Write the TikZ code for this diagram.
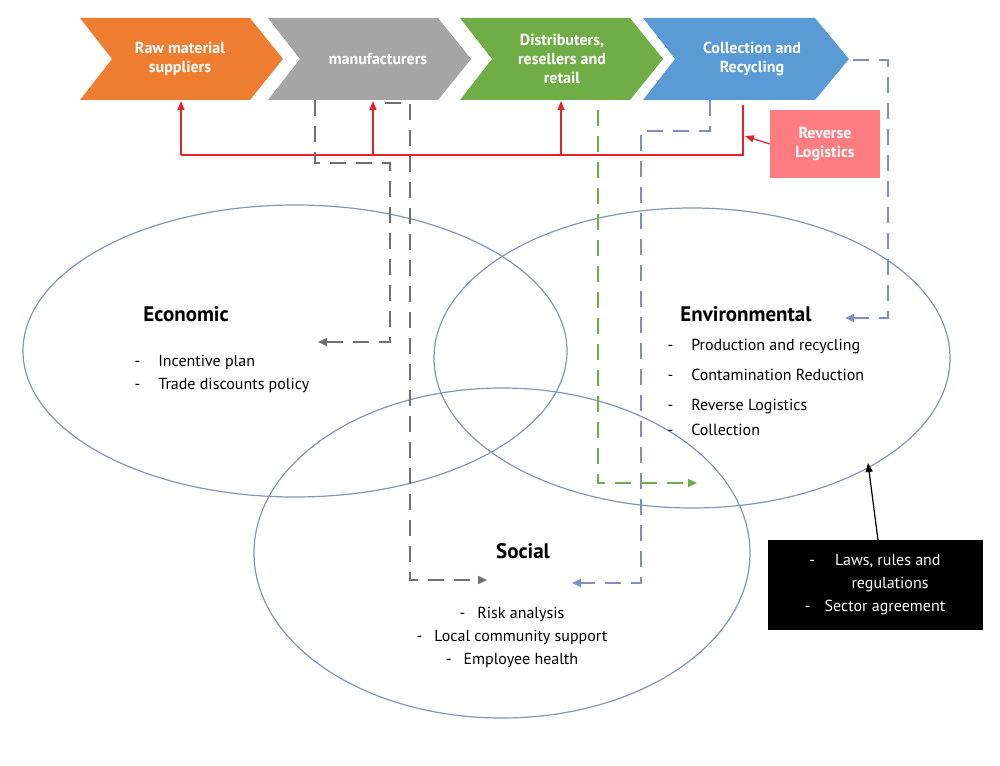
\documentclass[tikz,border=0pt]{standalone}
\usepackage{fontspec}
\setmainfont{PT Sans}
\usetikzlibrary{arrows.meta}
\definecolor{corange}{HTML}{ED7D31}
\definecolor{cgray}{HTML}{A5A5A5}
\definecolor{cgreen}{HTML}{70AD47}
\definecolor{cblue}{HTML}{5B9BD5}
\definecolor{cpink}{HTML}{FF7C80}
\definecolor{cell}{HTML}{8497B0}
\definecolor{dgray}{HTML}{707070}
\definecolor{dblue}{HTML}{7F8FBF}
\definecolor{cred}{HTML}{E8202A}
\tikzset{
 chev/.style={fill=#1,draw=none},
 clab/.style={text=white,font=\bfseries\fontsize{16}{19}\selectfont,align=center},
 ell/.style={draw=cell,line width=1.2pt},
 dl/.style={dashed,dash pattern=on 16pt off 10pt,line width=2pt,-{Triangle[length=9pt,width=8pt]}},
 rl/.style={cred,line width=1.2pt},
 ra/.style={rl,-{Triangle[length=9pt,width=7pt]}},
 head/.style={font=\bfseries\fontsize{21}{25}\selectfont},
 lst/.style={font=\fontsize{16}{23}\selectfont,align=left,anchor=north west},
}
\begin{document}
\begin{tikzpicture}[x=1pt,y=-1pt]
\useasboundingbox (0,0) rectangle (1000,765);
% ellipses
\draw[ell] (295,351) ellipse [x radius=272,y radius=146];
\draw[ell] (692,358) ellipse [x radius=258,y radius=150];
\draw[ell] (502,553) ellipse [x radius=248,y radius=165];
% chevrons
\fill[corange] (80,18) -- (250,18) -- (283,59) -- (250,100) -- (80,100) -- (112,59) -- cycle;
\fill[cgray] (268,18) -- (438,18) -- (471,59) -- (438,100) -- (268,100) -- (300,59) -- cycle;
\fill[cgreen] (460,18) -- (630,18) -- (663,59) -- (630,100) -- (460,100) -- (492,59) -- cycle;
\fill[cblue] (643,18) -- (815,18) -- (849,59) -- (815,100) -- (643,100) -- (675,59) -- cycle;
\node[clab] (raw) at (180,59) {Raw material\\suppliers};
\node[clab] (man) at (378,59) {manufacturers};
\node[clab] (dis) at (562,59) {Distributers,\\resellers and\\retail};
\node[clab] (col) at (752,59) {Collection and\\Recycling};
\node[fill=cpink,minimum width=110pt,minimum height=68pt,clab] (rev) at (825,144) {Reverse\\Logistics};
% red lines
\coordinate (r1) at (743,105);
\coordinate (r2) at (743,155);
\coordinate (r3) at (181,155);
\draw[rl] (r1) -- (r2) -- (r3);
\draw[ra] (r3) -- (181,101);
\draw[ra] (373,155) -- (373,101);
\draw[ra] (561,155) -- (561,101);
\draw[ra] (rev.west) -- (745,136);
% dashed connectors
\draw[dl,dgray] (315,100) -- (315,163) -- (390,163) -- (390,342) -- (318,342);
\draw[dl,dgray] (385,103) -- (410,103) -- (410,580) -- (487,580);
\draw[dl,cgreen] (598,110) -- (598,483) -- (697,483);
\draw[dl,dblue] (710,100) -- (710,131) -- (641,131) -- (641,583) -- (572,583);
\draw[dl,dblue] (853,60) -- (888,60) -- (888,318) -- (845,318);
% texts
\node[head] (eco) at (186,314) {Economic};
\node[lst] (ecol) at (131,352) {-\hspace{18pt}Incentive plan\\-\hspace{18pt}Trade discounts policy};
\node[head] (env) at (746,314) {Environmental};
\node[lst,font=\fontsize{16}{30}\selectfont] (envl) at (664,336) {-\hspace{18pt}Production and recycling\\-\hspace{18pt}Contamination Reduction\\-\hspace{18pt}Reverse Logistics};
\node[lst] (envl2) at (664,421) {-\hspace{18pt}Collection};
\node[head] (soc) at (523,551) {Social};
\node[font=\fontsize{16}{23}\selectfont,align=center] (socl) at (512,637) {-\hspace{12pt}Risk analysis\\-\hspace{12pt}Local community support\\-\hspace{12pt}Employee health};
\node[fill=black,text=white,minimum width=215pt,minimum height=90pt,font=\fontsize{16}{23}\selectfont,align=center] (law) at (875,585) {-\hspace{20pt}Laws, rules and\\\hspace{30pt}regulations\\-\hspace{14pt}Sector agreement};
\draw[line width=1.2pt,-{Triangle[length=9pt,width=7pt]}] (878,540) -- (868,463);
\end{tikzpicture}
\end{document}
